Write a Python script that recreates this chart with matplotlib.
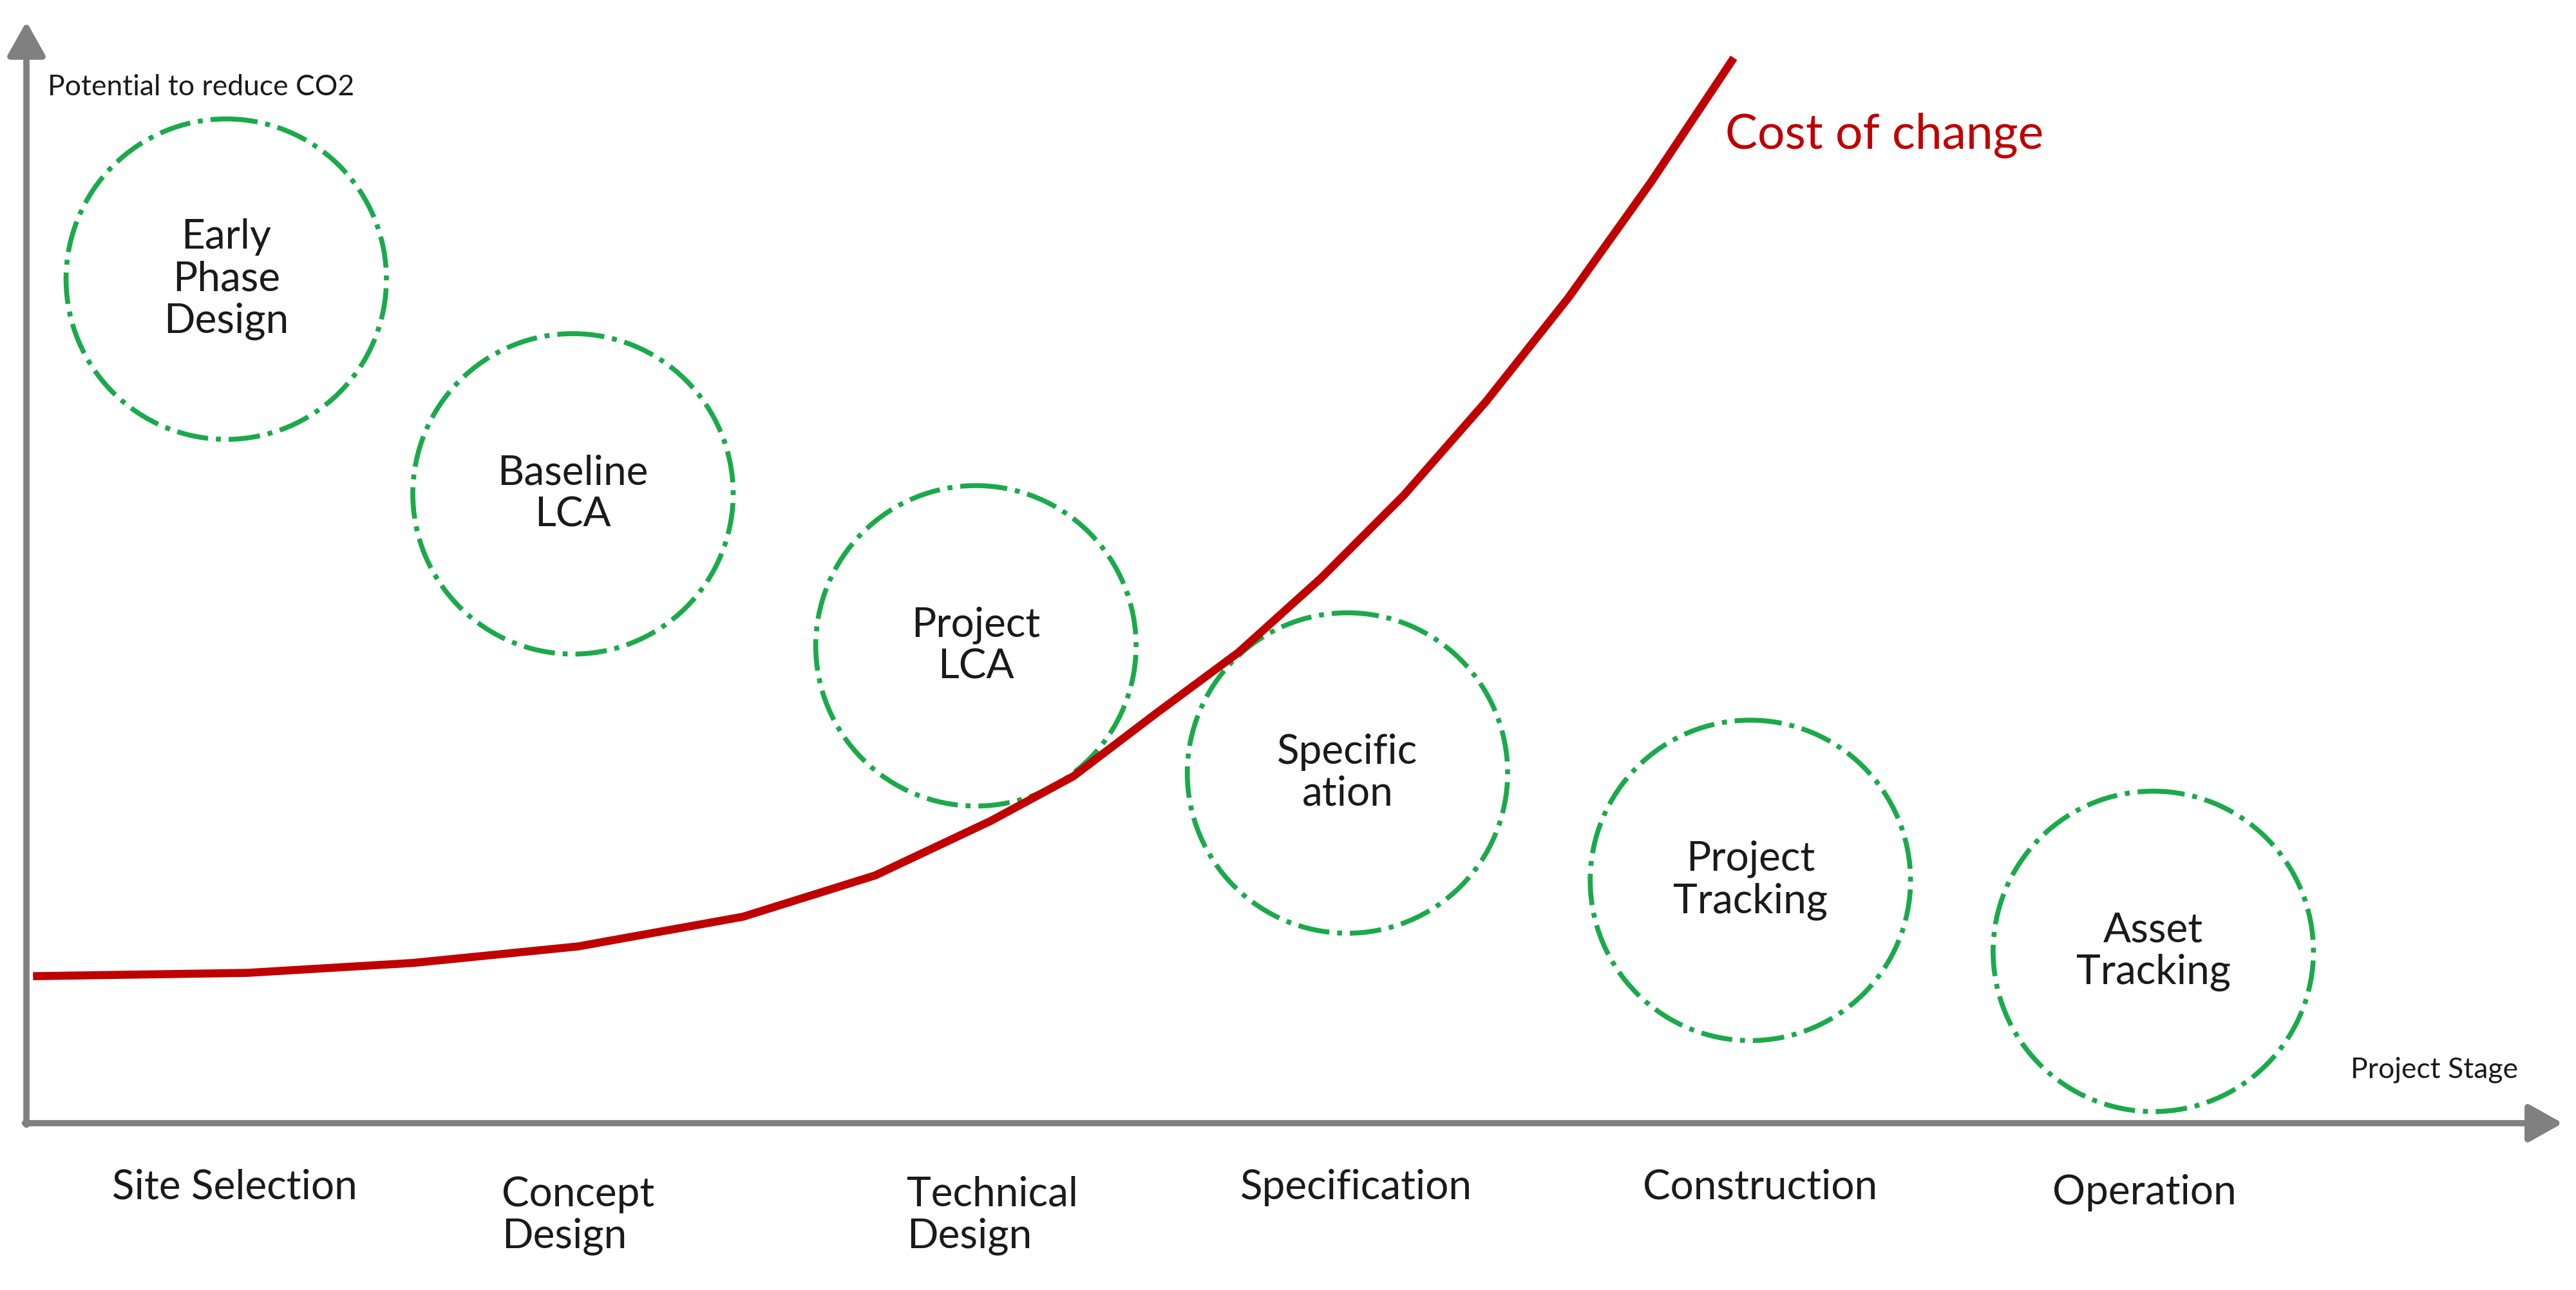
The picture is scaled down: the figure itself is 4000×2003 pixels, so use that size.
import matplotlib
matplotlib.use("Agg")
import matplotlib.pyplot as plt
from matplotlib.patches import Circle, FancyArrowPatch

plt.rcParams['font.family'] = ['Lato', 'DejaVu Sans']

W, H = 1560, 781
stage_labels = ["Site Selection", "Concept\nDesign", "Technical\nDesign", "Specification", "Construction", "Operation"]
stage_x = [68, 304, 549, 751, 995, 1243]
stage_y = [719, 736, 736, 719, 719, 722]

circle_labels = ["Early\nPhase\nDesign", "Baseline\nLCA", "Project\nLCA", "Specific\nation", "Project\nTracking", "Asset\nTracking"]
circle_x = [137, 347, 591, 816, 1060, 1304]
circle_y = [169, 299, 391, 468, 533, 576]
circle_r = 97

curve_x = [20, 150, 250, 350, 450, 530, 600, 650, 700, 750, 800, 850, 900, 950, 1000, 1050]
curve_y = [591, 589, 583, 573, 555, 530, 497, 470, 432, 395, 350, 300, 243, 180, 110, 35]

fig = plt.figure(figsize=(40, 20.03), dpi=100)
ax = fig.add_axes([0, 0, 1, 1])
ax.set_xlim(0, W)
ax.set_ylim(H, 0)
ax.set_aspect('auto')
ax.axis('off')

grey = '#808080'
ax.add_patch(FancyArrowPatch((16, 682), (16, 12), arrowstyle='-|>,head_length=1.6,head_width=0.9',
                             mutation_scale=20, color=grey, lw=7))
ax.add_patch(FancyArrowPatch((14, 680), (1553, 680), arrowstyle='-|>,head_length=1.6,head_width=0.9',
                             mutation_scale=20, color=grey, lw=7))

ax.plot(curve_x, curve_y, color='#c00000', lw=9, solid_capstyle='butt')

for cx, cy, lab in zip(circle_x, circle_y, circle_labels):
    ax.add_patch(Circle((cx, cy), circle_r, fill=False, edgecolor='#1aaa4a', lw=5.5, linestyle='-.'))
    ax.text(cx, cy, lab, ha='center', va='center', fontsize=46, color='#1a1a1a', linespacing=1.15)

for x, y, lab in zip(stage_x, stage_y, stage_labels):
    ax.text(x, y, lab, ha='left', va='center', fontsize=46, color='#1a1a1a', linespacing=1.15)

ax.text(29, 53, "Potential to reduce CO2", ha='left', va='center', fontsize=32, color='#1a1a1a')
ax.text(1525, 648, "Project Stage", ha='right', va='center', fontsize=32, color='#1a1a1a')
ax.text(1045, 82, "Cost of change", ha='left', va='center', fontsize=54, color='#c00000')

fig.savefig('out.png', dpi=100)
